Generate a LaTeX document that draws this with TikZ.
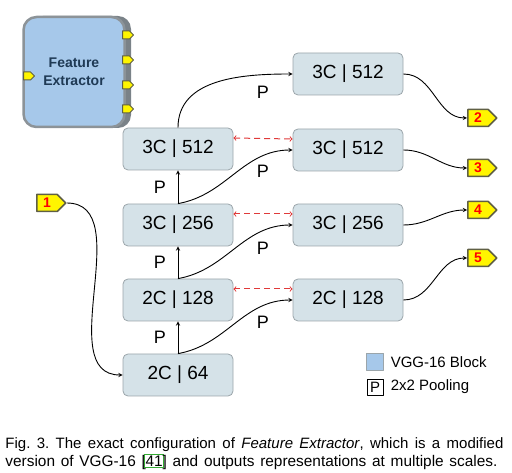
\documentclass[tikz,border=0pt]{standalone}
\usepackage{fontspec}
\setmainfont{Liberation Sans}
\usetikzlibrary{shapes.symbols}
\frenchspacing
\definecolor{blockfill}{HTML}{D5E2E8}
\definecolor{blockdraw}{HTML}{9BA5AA}
\definecolor{vggblue}{HTML}{A6C8EA}
\definecolor{fegray}{HTML}{8C9398}
\definecolor{feshadow}{HTML}{7A8288}
\definecolor{fetext}{HTML}{1F3A55}
\definecolor{tagdraw}{HTML}{5F5F45}
\definecolor{tagfill}{HTML}{FFF500}
\definecolor{linkred}{HTML}{E03A3A}
\definecolor{refgreen}{HTML}{33AA33}
\tikzset{
  block/.style={draw=blockdraw, fill=blockfill, rounded corners=5pt, line width=0.8pt,
    minimum width=110pt, minimum height=42pt, font=\fontsize{19}{22}\selectfont},
  tag/.style={signal, signal to=east, draw=tagdraw, fill=tagfill, line width=1.5pt,
    text=red, font=\bfseries\fontsize{14}{14}\selectfont,
    minimum width=29pt, minimum height=17pt, inner sep=1pt},
  port/.style={signal, signal to=east, draw=tagdraw, fill=tagfill, line width=1pt,
    minimum width=11pt, minimum height=8pt, inner sep=0pt},
  pool/.style={font=\fontsize{18}{20}\selectfont},
  skip/.style={<->, >=to, draw=linkred, dash pattern=on 6pt off 4pt, line width=1pt},
  legend/.style={anchor=west, font=\fontsize{15}{17}\selectfont},
  caption/.style={anchor=base west, inner sep=0pt}
}
\begin{document}
\begin{tikzpicture}[x=1pt, y=-1pt, line join=round, >=stealth, line width=0.9pt]
  \useasboundingbox (0,0) rectangle (512,473);
  % feature extractor
  \fill[feshadow, rounded corners=13pt] (30,16) rectangle (131,128);
  \node[draw=fegray, fill=vggblue, line width=2.5pt, rounded corners=13pt,
    minimum width=101pt, minimum height=110pt, text=fetext, align=center,
    font=\bfseries\fontsize{14}{18}\selectfont] (fe) at (74,72) {Feature\\Extractor};
  \node[port] (fein) at (27,76) {};
  \foreach \y [count=\i] in {35,60,85,109}
    \node[port] (feout\i) at (126,\y) {};
  % vgg blocks
  \node[block] (vgg64) at (178,375) {2C | 64};
  \node[block] (vgg128) at (178,300) {2C | 128};
  \node[block] (vgg256) at (178,225) {3C | 256};
  \node[block] (vgg512) at (178,149) {3C | 512};
  \node[block] (out128) at (348,300) {2C | 128};
  \node[block] (out256) at (348,225) {3C | 256};
  \node[block] (out512) at (348,150) {3C | 512};
  \node[block] (top512) at (348,74) {3C | 512};
  % tags
  \node[tag] (t1) at (47,203) {1};
  \node[tag] (t2) at (478,118) {2};
  \node[tag] (t3) at (478,168) {3};
  \node[tag] (t4) at (478,210) {4};
  \node[tag] (t5) at (478,258) {5};
  % connections
  \draw[->] (t1.east) to[out=0, in=180] (vgg64.west);
  \draw[->] (vgg64.north) -- (vgg128.south);
  \draw[->] (vgg128.north) -- (vgg256.south);
  \draw[->] (vgg256.north) -- (vgg512.south);
  \draw[->] (vgg64.north) to[out=10, in=180] (out128.west);
  \draw[->] (vgg128.north) to[out=10, in=180] (out256.west);
  \draw[->] (vgg256.north) to[out=10, in=180] (out512.west);
  \draw[->] (vgg512.north) to[out=90, in=180] (top512.west);
  \draw[->] (top512.east) to[out=0, in=180] (t2.west);
  \draw[->] (out512.east) to[out=0, in=180] (t3.west);
  \draw[->] (out256.east) to[out=0, in=180] (t4.west);
  \draw[->] (out128.east) to[out=0, in=180] (t5.west);
  \foreach \n in {128,256,512}
    \draw[skip] ([yshift=11pt]vgg\n.east) -- ([yshift=11pt]out\n.west);
  % pooling labels
  \node[pool] (p1) at (160,337) {P};
  \node[pool] (p2) at (160,262) {P};
  \node[pool] (p3) at (160,187) {P};
  \node[pool] (p4) at (263,322) {P};
  \node[pool] (p5) at (263,248) {P};
  \node[pool] (p6) at (263,171) {P};
  \node[pool] (p7) at (263,92) {P};
  % legend
  \node[draw=blockdraw, fill=vggblue, minimum size=17pt, inner sep=0pt, line width=0.6pt] (legvgg) at (375,362) {};
  \node[legend] (legvggtext) at (387,362) {VGG-16 Block};
  \node[draw, minimum size=16pt, inner sep=0pt, line width=0.5pt,
    font=\fontsize{15}{15}\selectfont] (legpool) at (375,387) {P};
  \node[legend] (legpooltext) at (387,387) {2x2 Pooling};
  % caption
  \node[caption, font=\fontsize{15}{18}\selectfont] (cap1) at (5,448)
    {\makebox[498pt][s]{Fig. 3. The exact configuration of \textit{Feature Extractor}, which is a modified}};
  \node[caption, font=\fontsize{15.4}{18}\selectfont] (cap2) at (5,466)
    {\makebox[492pt][s]{version of VGG-16 [{\setlength{\fboxsep}{0.5pt}\setlength{\fboxrule}{0.8pt}\kern-1.5pt\fcolorbox{refgreen}{white}{41}\kern-1.5pt}] and outputs representations at multiple scales.}};
\end{tikzpicture}
\end{document}
